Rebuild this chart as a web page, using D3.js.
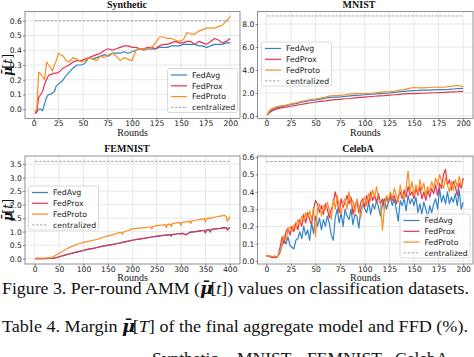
<!DOCTYPE html>
<html><head><meta charset="utf-8">
<script src="https://cdn.jsdelivr.net/npm/d3@7"></script>
<style>html,body{margin:0;padding:0;background:#fff;} svg{display:block;}</style>
</head><body>
<svg id="c" width="474" height="357"></svg>
<script>
// ---------------- DATA ----------------
const seriesNames = ["FedAvg", "FedProx", "FedProto"];
const centralName = "centralized";

// Synthetic
const syntheticRounds = [1,3,5,7,9,11,13,15,17,19,21,23,25,27,30,33,36,40,44,48,52,56,60,64,68,72,76,80,84,88,92,96,100,104,108,112,116,120,124,128,132,136,140,144,148,152,156,160,164,168,172,176,180,184,188,192,196,200];
const syntheticFedAvg = [-0.03,-0.02,0.0,0.0,-0.01,0.04,0.08,0.10,0.10,0.11,0.12,0.16,0.17,0.18,0.20,0.23,0.25,0.28,0.30,0.30,0.31,0.35,0.34,0.35,0.36,0.37,0.36,0.38,0.38,0.38,0.39,0.38,0.39,0.40,0.41,0.40,0.41,0.41,0.41,0.42,0.42,0.42,0.43,0.43,0.43,0.44,0.44,0.44,0.44,0.43,0.43,0.42,0.43,0.44,0.44,0.44,0.45,0.45];
const syntheticFedProx = [-0.03,-0.02,0.08,0.10,0.12,0.17,0.20,0.23,0.235,0.24,0.245,0.245,0.25,0.26,0.28,0.29,0.30,0.32,0.33,0.33,0.34,0.35,0.36,0.37,0.38,0.40,0.41,0.40,0.41,0.42,0.43,0.43,0.42,0.42,0.41,0.41,0.42,0.42,0.41,0.43,0.44,0.44,0.45,0.46,0.45,0.45,0.46,0.46,0.44,0.46,0.45,0.44,0.46,0.48,0.47,0.45,0.46,0.48];
const syntheticFedProto = [-0.02,0.0,0.25,0.24,0.22,0.20,0.32,0.30,0.28,0.26,0.30,0.33,0.38,0.37,0.36,0.33,0.32,0.35,0.34,0.32,0.33,0.35,0.34,0.33,0.36,0.35,0.37,0.38,0.36,0.33,0.35,0.34,0.33,0.40,0.41,0.41,0.41,0.42,0.45,0.49,0.49,0.48,0.48,0.47,0.46,0.47,0.52,0.51,0.51,0.53,0.54,0.55,0.55,0.55,0.56,0.57,0.60,0.63];
const syntheticCentral = 0.6;
const syntheticXTicks = [0,25,50,75,100,125,150,175,200];
const syntheticYTicks = [0.0,0.1,0.2,0.3,0.4,0.5,0.6];

// MNIST
const mnistRounds = [1,3,5,8,10,15,20,25,30,35,40,45,50,55,60,65,70,75,80,85,90,95,100,105,110,115,120,125,130,135,140,145,150,155,160,165,170,175,180,185,190,195,200];
const mnistFedAvg = [0.10,0.35,0.50,0.62,0.70,0.80,0.90,1.00,1.08,1.18,1.28,1.35,1.40,1.47,1.55,1.62,1.65,1.65,1.70,1.75,1.80,1.82,1.85,1.88,1.92,1.95,1.97,2.00,2.05,2.10,2.15,2.18,2.20,2.22,2.25,2.25,2.28,2.30,2.30,2.32,2.35,2.38,2.40];
const mnistFedProx = [0.08,0.28,0.40,0.52,0.60,0.70,0.78,0.85,0.92,1.00,1.08,1.15,1.22,1.27,1.32,1.38,1.42,1.45,1.50,1.52,1.58,1.62,1.65,1.68,1.72,1.75,1.78,1.82,1.85,1.88,1.92,1.95,1.95,1.97,1.98,2.00,2.02,2.03,2.05,2.08,2.10,2.12,2.15];
const mnistFedProto = [0.12,0.45,0.62,0.72,0.80,0.88,0.95,1.05,1.15,1.25,1.35,1.42,1.48,1.55,1.65,1.75,1.78,1.80,1.85,1.92,1.95,1.95,1.95,1.98,2.00,2.05,2.10,2.12,2.15,2.25,2.30,2.40,2.48,2.45,2.45,2.48,2.50,2.52,2.50,2.55,2.62,2.65,2.55];
const mnistCentral = 8.7;
const mnistXTicks = [0,25,50,75,100,125,150,175,200];
const mnistYTicks = [0.0,2.0,4.0,6.0,8.0];

// FEMNIST
const femnistRounds = [1,10,20,30,35,40,45,50,60,70,80,90,100,110,120,130,140,150,160,170,178,180,182,190,200,210,220,230,238,240,242,250,260,268,270,272,278,280,282,290,298,300,302,310,318,320,322,330,340,348,350,352,358,360,362,370,380,390,393,395,398,400];
const femnistFedAvg = [0.0,0.0,0.0,0.01,0.01,0.02,0.04,0.07,0.12,0.17,0.21,0.26,0.30,0.34,0.38,0.42,0.46,0.49,0.52,0.56,0.59,0.60,0.60,0.64,0.68,0.71,0.74,0.77,0.79,0.80,0.80,0.82,0.85,0.87,0.87,0.87,0.89,0.82,0.89,0.91,0.93,0.93,0.94,0.88,0.97,0.98,0.98,1.00,1.03,1.05,0.95,1.05,1.07,0.98,1.07,1.10,1.12,1.15,1.15,1.05,1.12,1.15];
const femnistFedProx = [0.0,0.0,0.0,0.01,0.01,0.02,0.04,0.07,0.12,0.17,0.22,0.26,0.31,0.35,0.38,0.42,0.46,0.50,0.53,0.56,0.59,0.60,0.61,0.64,0.68,0.71,0.74,0.77,0.80,0.80,0.81,0.83,0.85,0.87,0.87,0.88,0.89,0.85,0.90,0.91,0.93,0.90,0.94,0.89,0.97,0.98,0.99,1.00,1.03,1.05,0.96,1.06,1.07,1.00,1.08,1.10,1.12,1.15,1.14,1.07,1.13,1.16];
const femnistFedProto = [0.02,0.02,0.02,0.03,0.05,0.09,0.14,0.20,0.30,0.40,0.48,0.55,0.60,0.64,0.68,0.72,0.79,0.84,0.88,0.95,0.97,0.90,0.98,1.03,1.10,1.12,1.14,1.16,1.18,1.10,1.19,1.22,1.24,1.26,1.15,1.27,1.28,1.18,1.29,1.32,1.33,1.22,1.34,1.36,1.38,1.30,1.40,1.42,1.45,1.47,1.35,1.48,1.50,1.48,1.51,1.54,1.57,1.60,1.55,1.38,1.48,1.55];
const femnistCentral = 3.6;
const femnistXTicks = [0,50,100,150,200,250,300,350,400];
const femnistYTicks = [0.0,0.5,1.0,1.5,2.0,2.5,3.0,3.5];

// CelebA
const celebaRounds = [0,2,4,6,8,10,12,
  14,16,18,20,22,24,26,28,30,
  32,34,36,38,40,42,44,46,48,50,
  52,54,56,58,60,62,64,66,68,70,
  72,74,76,78,80,82,84,86,88,90,
  92,94,96,98,100,102,104,106,108,110,
  112,114,116,118,120,122,124,126,128,130,
  132,134,136,138,140,142,144,146,148,150,
  152,154,156,158,160,162,164,166,168,170,
  172,174,176,178,180,182,184,186,188,190,
  192,194,196,198,200];
const celebaFedAvg = [0.03,0.03,0.025,0.02,0.025,0.02,0.03,
  0.05,0.09,0.12,0.10,0.14,0.09,0.08,0.07,0.12,
  0.13,0.17,0.13,0.20,0.15,0.18,0.12,0.22,0.16,0.26,
  0.20,0.25,0.18,0.24,0.20,0.26,0.22,0.15,0.12,0.25,
  0.30,0.22,0.28,0.20,0.30,0.26,0.24,0.30,0.21,0.27,
  0.26,0.19,0.30,0.33,0.30,0.28,0.34,0.27,0.33,0.30,
  0.35,0.31,0.26,0.33,0.36,0.30,0.34,0.37,0.32,0.36,
  0.30,0.23,0.35,0.32,0.36,0.29,0.38,0.33,0.36,0.32,
  0.37,0.28,0.33,0.27,0.34,0.30,0.25,0.32,0.28,0.33,
  0.36,0.30,0.42,0.34,0.38,0.33,0.40,0.33,0.37,0.34,
  0.39,0.32,0.41,0.30,0.34];
const celebaFedProx = [0.03,0.03,0.025,0.02,0.025,0.02,0.03,
  0.08,0.14,0.10,0.17,0.19,0.15,0.20,0.17,0.22,
  0.18,0.24,0.20,0.27,0.22,0.28,0.24,0.21,0.30,0.35,
  0.33,0.28,0.32,0.27,0.33,0.30,0.25,0.30,0.33,0.40,
  0.35,0.28,0.36,0.31,0.34,0.38,0.33,0.37,0.27,0.32,
  0.35,0.28,0.34,0.36,0.31,0.38,0.33,0.40,0.35,0.38,
  0.34,0.39,0.33,0.36,0.30,0.37,0.34,0.39,0.35,0.38,
  0.33,0.37,0.40,0.36,0.41,0.37,0.43,0.38,0.40,0.36,
  0.42,0.38,0.43,0.36,0.40,0.35,0.41,0.37,0.42,0.39,
  0.44,0.38,0.45,0.42,0.50,0.53,0.44,0.47,0.41,0.46,
  0.43,0.38,0.45,0.42,0.48];
const celebaFedProto = [0.035,0.03,0.03,0.025,0.03,0.025,0.03,
  0.06,0.10,0.15,0.12,0.18,0.20,0.17,0.21,0.19,
  0.24,0.21,0.26,0.23,0.28,0.25,0.29,0.24,0.31,0.14,
  0.30,0.33,0.26,0.32,0.30,0.34,0.29,0.24,0.36,0.30,
  0.38,0.32,0.27,0.34,0.36,0.30,0.40,0.33,0.35,0.28,
  0.36,0.31,0.25,0.34,0.37,0.32,0.39,0.35,0.41,0.37,
  0.43,0.36,0.33,0.18,0.31,0.38,0.35,0.40,0.36,0.42,
  0.38,0.34,0.44,0.38,0.36,0.42,0.52,0.40,0.46,0.38,
  0.44,0.39,0.47,0.41,0.45,0.38,0.43,0.40,0.46,0.42,
  0.48,0.44,0.50,0.46,0.42,0.48,0.44,0.40,0.46,0.41,
  0.47,0.43,0.49,0.44,0.46];
const celebaCentral = 0.575;
const celebaXTicks = [0,25,50,75,100,125,150,175,200];
const celebaYTicks = [0.0,0.1,0.2,0.3,0.4,0.5,0.6];

// ---------------- STYLE ----------------
const colors = {FedAvg: "#3384c4", FedProx: "#e2344f", FedProto: "#fb8d22"};
const tickFont = "'DejaVu Sans', sans-serif";
const serif = "'Liberation Serif', 'Times New Roman', serif";

const svg = d3.select("#c");

const panels = [
  {title: "Synthetic", titleX: 127, titleY: 7.8, xr: [25, 240], yr: [11.5, 118.5],
   xd: [-8.95, 209.95], yd: [-0.063, 0.663], xTicks: syntheticXTicks, yTicks: syntheticYTicks, yfmt: ".1f",
   rounds: syntheticRounds, series: [syntheticFedAvg, syntheticFedProx, syntheticFedProto], central: syntheticCentral,
   legend: [167.5, 68.5], ylabel: true},
  {title: "MNIST", titleX: 359, titleY: 7.8, xr: [257.5, 473], yr: [11.5, 118.5],
   xd: [-8.95, 209.95], yd: [-0.217, 9.087], xTicks: mnistXTicks, yTicks: mnistYTicks, yfmt: ".1f",
   rounds: mnistRounds, series: [mnistFedAvg, mnistFedProx, mnistFedProto], central: mnistCentral,
   legend: [261.5, 42], ylabel: false},
  {title: "FEMNIST", titleX: 127, titleY: 152, xr: [25, 240], yr: [156, 264],
   xd: [-19.95, 420.95], yd: [-0.2, 3.8], xTicks: femnistXTicks, yTicks: femnistYTicks, yfmt: ".1f",
   rounds: femnistRounds, series: [femnistFedAvg, femnistFedProx, femnistFedProto], central: femnistCentral,
   legend: [28.5, 186], ylabel: true},
  {title: "CelebA", titleX: 358, titleY: 152, xr: [257.5, 473], yr: [156, 264],
   xd: [-8.95, 209.95], yd: [-0.017, 0.607], xTicks: celebaXTicks, yTicks: celebaYTicks, yfmt: ".1f",
   rounds: celebaRounds, series: [celebaFedAvg, celebaFedProx, celebaFedProto], central: celebaCentral,
   legend: [400, 214], ylabel: false}
];

// bold mu with a bar drawn as a separate overline glyph
function muBar(t, fontSize) {
  t.append("tspan").style("font-weight", "bold").style("font-style", "italic")
    .style("font-family", "'DejaVu Serif', serif").text("\u03BC");
  t.append("tspan").style("font-weight", "bold")
    .style("font-family", "'DejaVu Serif', serif")
    .attr("dx", (-0.62 * fontSize).toFixed(2)).attr("dy", (-0.04 * fontSize).toFixed(2)).text("\u00AF");
  t.append("tspan").attr("dy", (0.04 * fontSize).toFixed(2)).attr("dx", (-0.02 * fontSize).toFixed(2)).text("[");
}

panels.forEach(p => {
  const g = svg.append("g");
  const x = d3.scaleLinear().domain(p.xd).range(p.xr);
  const y = d3.scaleLinear().domain(p.yd).range([p.yr[1], p.yr[0]]);

  // grid
  g.append("g").selectAll("line").data(p.xTicks).join("line")
    .attr("x1", d => x(d)).attr("x2", d => x(d)).attr("y1", p.yr[0]).attr("y2", p.yr[1])
    .attr("stroke", "#e2e2e2").attr("stroke-width", 0.8);
  g.append("g").selectAll("line").data(p.yTicks).join("line")
    .attr("x1", p.xr[0]).attr("x2", p.xr[1]).attr("y1", d => y(d)).attr("y2", d => y(d))
    .attr("stroke", "#e2e2e2").attr("stroke-width", 0.8);

  // series
  const line = d3.line().x(d => x(d[0])).y(d => y(d[1]));
  p.series.forEach((vals, i) => {
    const pts = p.rounds.map((r, k) => [r, vals[k]]);
    g.append("path").datum(pts).attr("d", line).attr("fill", "none")
      .attr("stroke", colors[seriesNames[i]]).attr("stroke-width", 1.2).attr("stroke-linejoin", "round");
  });
  // centralized
  const r0 = p.rounds[0], r1 = p.rounds[p.rounds.length - 1];
  g.append("path").datum([[r0, p.central], [r1, p.central]]).attr("d", line)
    .attr("fill", "none").attr("stroke", "#999").attr("stroke-width", 0.9).attr("stroke-dasharray", "2.5,1.5");

  // frame
  g.append("rect").attr("x", p.xr[0]).attr("y", p.yr[0])
    .attr("width", p.xr[1] - p.xr[0]).attr("height", p.yr[1] - p.yr[0])
    .attr("fill", "none").attr("stroke", "#777").attr("stroke-width", 0.8);

  // axes
  const ax = g.append("g").attr("transform", `translate(0,${p.yr[1]})`)
    .call(d3.axisBottom(x).tickValues(p.xTicks).tickFormat(d3.format("d")).tickSize(2).tickPadding(0.3));
  const ay = g.append("g").attr("transform", `translate(${p.xr[0]},0)`)
    .call(d3.axisLeft(y).tickValues(p.yTicks).tickFormat(d3.format(p.yfmt)).tickSize(2).tickPadding(1.2));
  [ax, ay].forEach(a => {
    a.select(".domain").remove();
    a.selectAll(".tick line").attr("stroke", "#555").attr("stroke-width", 0.7);
    a.selectAll(".tick text").attr("fill", "#222").style("font-family", tickFont).style("font-size", "7.6px");
  });

  // title
  g.append("text").attr("x", p.titleX).attr("y", p.titleY).attr("text-anchor", "middle")
    .style("font-family", serif).style("font-weight", "bold").style("font-size", "10px").attr("fill", "#111")
    .text(p.title);
  // x label
  g.append("text").attr("x", (p.xr[0] + p.xr[1]) / 2).attr("y", p.yr[1] + 17.2).attr("text-anchor", "middle")
    .style("font-family", serif).style("font-size", "10px").attr("fill", "#111").text("Rounds");
  // y label
  if (p.ylabel) {
    const cy = (p.yr[0] + p.yr[1]) / 2;
    const fs = 12.5;
    const t = g.append("text").attr("transform", `translate(11.5,${cy}) rotate(-90)`).attr("text-anchor", "middle")
      .style("font-family", "'DejaVu Serif', serif").style("font-size", fs + "px").attr("fill", "#111");
    muBar(t, fs);
    t.append("tspan").style("font-style", "italic").text("t");
    t.append("tspan").text("]");
  }

  // legend
  const [lx, ly] = p.legend;
  const lg = g.append("g");
  lg.append("rect").attr("x", lx).attr("y", ly).attr("width", 70).attr("height", 44).attr("rx", 2)
    .attr("fill", "#fff").attr("fill-opacity", 0.8).attr("stroke", "#d0d0d0").attr("stroke-width", 0.8);
  const entries = seriesNames.concat([centralName]);
  entries.forEach((name, i) => {
    const ey = ly + 6.5 + i * 10.8;
    const ln = lg.append("line").attr("x1", lx + 3.5).attr("x2", lx + 19.5).attr("y1", ey).attr("y2", ey)
      .attr("stroke", i < 3 ? colors[name] : "#999").attr("stroke-width", i < 3 ? 1.2 : 0.9);
    if (i === 3) ln.attr("stroke-dasharray", "2.5,1.5");
    lg.append("text").attr("x", lx + 24.5).attr("y", ey).attr("dy", "0.35em")
      .style("font-family", tickFont).style("font-size", "7.8px").attr("fill", "#222").text(name);
  });
});

// ---------------- CAPTIONS ----------------
const capSize = 17.5;
function caption(xp, yp, len) {
  const t = svg.append("text").attr("x", xp).attr("y", yp)
    .style("font-family", serif).style("font-size", capSize + "px").attr("fill", "#111");
  if (len) t.attr("textLength", len).attr("lengthAdjust", "spacingAndGlyphs");
  return t;
}
const c1 = caption(2, 293.5, 467);
c1.append("tspan").text("Figure 3. Per-round AMM (");
muBar(c1, capSize);
c1.append("tspan").style("font-style", "italic").text("t");
c1.append("tspan").text("]) values on classification datasets.");

const c2 = caption(2, 332, 466);
c2.append("tspan").text("Table 4. Margin ");
muBar(c2, capSize);
c2.append("tspan").style("font-style", "italic").text("T");
c2.append("tspan").text("] of the final aggregate model and FFD (%).");

const tableHeads = ["Synthetic", "MNIST", "FEMNIST", "CelebA"];
const tableHeadX = [152, 237, 307, 395];
tableHeads.forEach((h, i) => caption(tableHeadX[i], 363.5, null).text(h));
</script>
</body></html>
